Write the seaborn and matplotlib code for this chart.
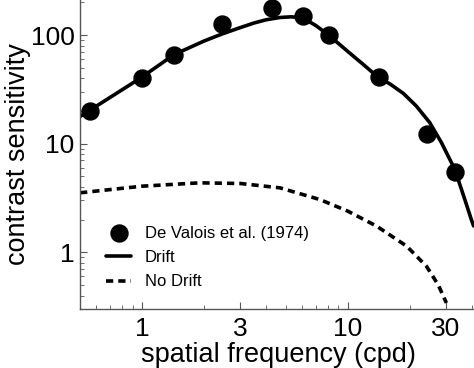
import numpy as np
import pandas as pd
import matplotlib
matplotlib.use("Agg")
import matplotlib.pyplot as plt
from matplotlib.ticker import FixedLocator, NullFormatter, LogLocator
import seaborn as sns

# De Valois et al. (1974) measurements
dv_freq = [0.56, 1.0, 1.43, 2.44, 4.26, 6.03, 8.1, 14.1, 24.2, 33.3]
dv_sens = [19.8, 40, 66, 125, 176, 149, 99, 40.7, 12.4, 5.43]

# model curves
drift_freq = [0.5, 0.98, 1.43, 2.0, 2.44, 3.0, 3.5, 4.0, 4.68, 5.3, 6.03, 7.0, 8.1,
              10.0, 12.0, 14.1, 16.0, 18.6, 21.5, 25.0, 28.5, 33.1, 37.0, 39.8, 40.8]
drift_sens = [17.8, 40, 66, 88, 102, 117, 129, 138, 145, 147, 144, 122, 99,
              70.5, 52.7, 40.5, 35.5, 29.0, 22.2, 15.6, 10.2, 5.78, 3.06, 2.0, 1.75]

nodrift_freq = [0.5, 1.0, 1.91, 3.0, 4.68, 7.31, 10.0, 13.8, 19.3, 24.1, 27.5, 30.1]
nodrift_sens = [3.53, 4.06, 4.36, 4.30, 3.92, 3.06, 2.39, 1.74, 1.14, 0.743, 0.5, 0.342]

xticks = [1, 3, 10, 30]
yticks = [1, 10, 100]

sns.set_style("ticks", {"text.color": "black", "xtick.color": "#555555",
                        "ytick.color": "#555555", "axes.labelcolor": "black"})
plt.rcParams['font.family'] = ['Liberation Sans', 'DejaVu Sans']

fig = plt.figure(figsize=(4.74, 3.68), dpi=100)
ax = fig.add_axes([0.169, 0.160, 0.831, 0.840])

dv = pd.DataFrame({"f": dv_freq, "s": dv_sens})
dr = pd.DataFrame({"f": drift_freq, "s": drift_sens})
nd = pd.DataFrame({"f": nodrift_freq, "s": nodrift_sens})

sns.lineplot(data=dr, x="f", y="s", ax=ax, color="black", lw=2.6, label="Drift",
             sort=False, estimator=None)
sns.lineplot(data=nd, x="f", y="s", ax=ax, color="black", lw=2.6, label="No Drift",
             sort=False, estimator=None, linestyle=(0, (2.0, 1.4)))
sns.scatterplot(data=dv, x="f", y="s", ax=ax, color="black", s=150, edgecolor="black",
                label="De Valois et al. (1974)", zorder=5)

ax.set_xscale("log")
ax.set_yscale("log")
ax.set_xlim(0.5, 41)
ax.set_ylim(0.3, 210)

ax.xaxis.set_major_locator(FixedLocator(xticks))
ax.set_xticklabels([str(t) for t in xticks])
ax.xaxis.set_minor_locator(LogLocator(base=10, subs=np.arange(2, 10)))
ax.xaxis.set_minor_formatter(NullFormatter())
ax.yaxis.set_major_locator(FixedLocator(yticks))
ax.set_yticklabels([str(t) for t in yticks])
ax.yaxis.set_minor_locator(LogLocator(base=10, subs=np.arange(2, 10)))
ax.yaxis.set_minor_formatter(NullFormatter())

ax.tick_params(which="both", direction="in", labelsize=19, labelcolor="black")
ax.tick_params(axis="x", pad=6)
ax.tick_params(axis="y", pad=4)
ax.tick_params(which="major", length=5, width=0.8)
ax.tick_params(which="minor", length=3, width=0.6)

for side in ["top", "right"]:
    ax.spines[side].set_visible(False)
for side in ["left", "bottom"]:
    ax.spines[side].set_color("#555555")
    ax.spines[side].set_linewidth(1.0)

ax.set_ylabel("contrast sensitivity", fontsize=19.5, labelpad=0)
ax.set_xlabel("")
# x label sits at the very bottom edge, as in the original
fig.text(0.587, 0.0, "spatial frequency (cpd)", fontsize=19.5,
         ha="center", va="bottom")

handles, labels = ax.get_legend_handles_labels()
order = [2, 0, 1]
ax.legend([handles[i] for i in order], [labels[i] for i in order],
          loc="lower left", bbox_to_anchor=(0.05, 0.042), frameon=False,
          fontsize=12, handlelength=1.5, handletextpad=0.8, labelspacing=0.56,
          markerscale=1.0, borderaxespad=0)

fig.savefig("out.png", dpi=100)
